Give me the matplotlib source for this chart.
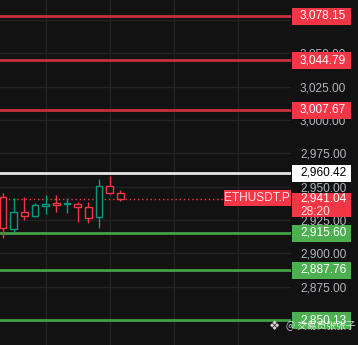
"""
ETHUSDT.P perpetual, short candle window with key levels marked on the price scale.
Dark chart, hollow candles, support (green) and resistance (red) lines.
"""

import matplotlib

matplotlib.use("Agg")
import matplotlib.pyplot as plt  # noqa: E402
from matplotlib.patches import Rectangle  # noqa: E402
from matplotlib.transforms import blended_transform_factory  # noqa: E402

# --------------------------------------------------------------------------- #
# Data
# --------------------------------------------------------------------------- #

opens = [2942.5, 2918.3, 2930.8, 2928.3, 2935.8, 2937.5, 2936.8, 2937.0, 2935.0, 2927.0, 2950.7, 2945.0]
highs = [2945.2, 2941.3, 2942.5, 2938.0, 2943.8, 2943.8, 2941.3, 2938.8, 2938.8, 2955.5, 2958.0, 2947.5]
lows = [2911.5, 2916.3, 2925.0, 2927.5, 2929.5, 2931.3, 2930.5, 2923.8, 2923.0, 2918.8, 2944.5, 2939.5]
closes = [2918.8, 2930.8, 2928.3, 2936.3, 2937.0, 2936.3, 2937.5, 2935.0, 2926.3, 2950.7, 2945.0, 2941.04]

resistance = [3078.15, 3044.79, 3007.67]
reference_level = 2960.42
support = [2915.60, 2887.76, 2850.13]

last_price = 2941.04
countdown = "28:20"
symbol = "ETHUSDT.P"
price_ticks = [3075, 3050, 3025, 3000, 2975, 2950, 2925, 2900, 2875, 2850]
hidden_ticks = [3075, 2850]  # fully covered by level boxes on the chart
watermark = "@ 交易员张张子"

# --------------------------------------------------------------------------- #
# Style
# --------------------------------------------------------------------------- #

BG = "#121212"
GRID = "#222222"
UP = "#089981"
DOWN = "#f23645"
RED_LINE = "#c8303d"
GREEN_LINE = "#43a047"
GREEN_BOX = "#4caf50"
AXIS_TEXT = "#b2b5be"
FONT = "Liberation Sans"
FS = 8.6

W, H = 358, 345
PLOT_W = 291  # px, where the price scale starts

fig = plt.figure(figsize=(W / 100, H / 100), dpi=100, facecolor=BG)
ax = fig.add_axes([0, 0, PLOT_W / W, 1])
ax.set_facecolor(BG)
for s in ax.spines.values():
    s.set_visible(False)

ax.set_xlim(-0.28, 27.0)
ax.set_ylim(2831.4, 3089.9)
px = (3089.9 - 2831.4) / H  # price units per pixel

# grid
ax.set_xticks([4, 10, 16, 22])
ax.set_yticks(price_ticks)
ax.grid(True, color=GRID, lw=1)
ax.tick_params(axis="x", length=0, labelbottom=False)
ax.tick_params(axis="y", length=0, left=False, labelleft=False,
               right=False, labelright=True, pad=6.5, labelcolor=AXIS_TEXT)
ax.set_yticklabels(["" if v in hidden_ticks else f"{v:,.2f}" for v in price_ticks],
                   fontsize=FS, family=FONT)

# key levels
for lv in resistance:
    ax.axhline(lv, color=RED_LINE, lw=2.0, zorder=2)
ax.axhline(reference_level, color="#e6e6e6", lw=2.0, zorder=2)
for lv in support:
    ax.axhline(lv, color=GREEN_LINE, lw=2.0, zorder=2)

# current price, dotted
ax.plot([-0.28, (224 - 3) / 10.67], [last_price, last_price], color=DOWN,
        lw=1, ls=(0, (1, 2)), zorder=2)

# hollow candles
bw = 0.62
for i, (o, h, l, c) in enumerate(zip(opens, highs, lows, closes)):
    col = UP if c >= o else DOWN
    top, bot = max(o, c), min(o, c)
    ax.vlines(i, top, h, color=col, lw=1, zorder=3)
    ax.vlines(i, l, bot, color=col, lw=1, zorder=3)
    ax.add_patch(Rectangle((i - bw / 2, bot), bw, max(top - bot, 0.4),
                           facecolor=BG, edgecolor=col, lw=1, zorder=4))

# price scale boxes
tr = blended_transform_factory(ax.transAxes, ax.transData)


def xa(p):
    return p / PLOT_W


def box(level, text, face, tcolor="white", top=None, bottom=None):
    if top is None:
        top, bottom = level + 8 * px, level - 9 * px
    ax.add_patch(Rectangle((xa(292), bottom), xa(351) - xa(292), top - bottom,
                           transform=tr, facecolor=face, edgecolor="none",
                           clip_on=False, zorder=5))
    ax.text(xa(300), level, text, transform=tr, ha="left", va="center",
            color=tcolor, fontsize=FS, family=FONT, clip_on=False, zorder=6)


for lv in resistance:
    box(lv, f"{lv:,.2f}", DOWN)
box(reference_level, f"{reference_level:,.2f}", "white", tcolor="black")
for lv in support:
    box(lv, f"{lv:,.2f}", GREEN_BOX)

# last price box with countdown
box(last_price, f"{last_price:,.2f}", DOWN, top=last_price + 6 * px,
    bottom=last_price - 18.5 * px)
ax.text(xa(300), last_price - 13 * px, countdown, transform=tr, ha="left",
        va="center", color="#fde2e4", fontsize=FS, family=FONT, clip_on=False, zorder=6)

# symbol tag
ax.add_patch(Rectangle((xa(224), last_price - 7.5 * px), xa(290.5) - xa(224), 16.5 * px,
                       transform=tr, facecolor=DOWN, edgecolor="none",
                       clip_on=False, zorder=5))
ax.text(xa(257), last_price + 0.5 * px, symbol, transform=tr, ha="center", va="center",
        color="#fde2e4", fontsize=FS, family=FONT, clip_on=False, zorder=6)

# watermark
fig.text(275 / W, 1 - 326 / H, "❖", ha="center", va="center", color="white",
         alpha=0.8, fontsize=9, family=["DejaVu Sans"], zorder=10)
fig.text(286 / W, 1 - 326 / H, watermark, ha="left", va="center", color="white",
         alpha=0.8, fontsize=7, family=["Noto Sans CJK SC", "DejaVu Sans"], zorder=10)

fig.savefig("out.png", dpi=100, facecolor=BG)
